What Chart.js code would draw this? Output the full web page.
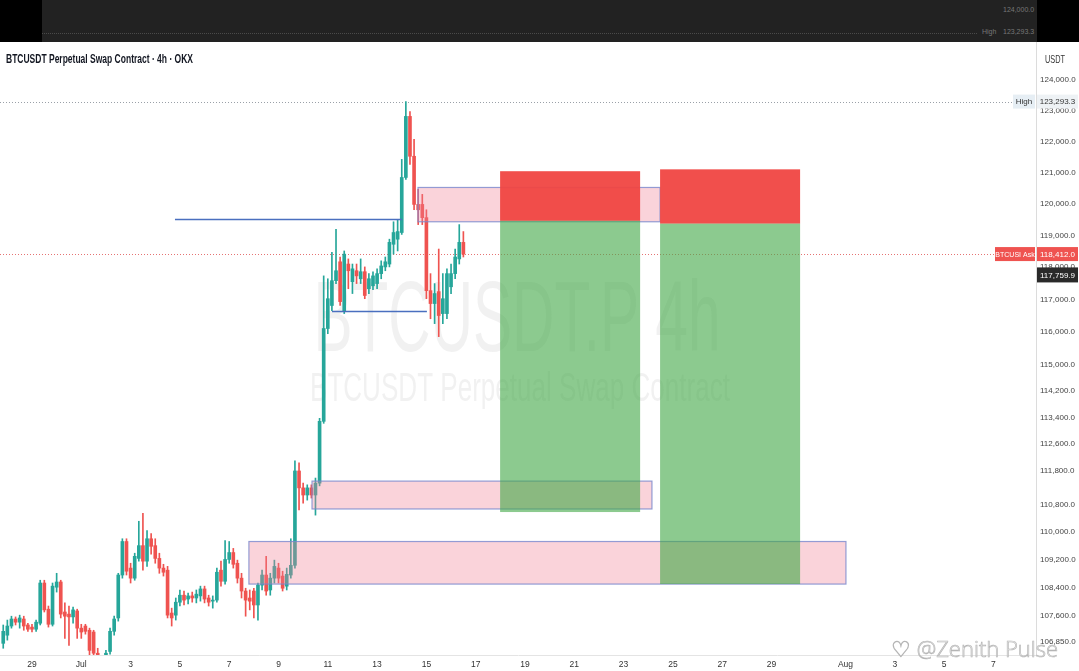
<!DOCTYPE html>
<html>
<head>
<meta charset="utf-8">
<script src="https://cdn.jsdelivr.net/npm/chart.js@4.4.1/dist/chart.umd.min.js"></script>
<style>
  html, body { margin: 0; padding: 0; background: #fff; width: 1079px; height: 671px; overflow: hidden; }
  body { font-family: 'Liberation Sans', sans-serif; }
  #topbar { position: absolute; left: 0; top: 0; width: 1079px; height: 42px; background: #000; }
  #topbar .inner { position: absolute; left: 42px; top: 0; width: 995px; height: 42px; background: #222; }
  #topbar .ghost { position: absolute; color: #777; font-size: 7px; }
  #topbar .dots { position: absolute; left: 42px; top: 33px; width: 935px; border-top: 1px dotted #4a4a4a; }
  #wrap { position: absolute; left: 0; top: 42px; width: 1079px; height: 629px; }
  #brand { position: absolute; left: 891px; top: 633px; font-family: 'Open Sans', 'Liberation Sans', sans-serif; font-size: 22px; font-weight: 300;
           color: rgba(255,255,255,0.5); -webkit-text-stroke: 0.7px #b5b5b5; white-space: nowrap; }
</style>
</head>
<body>
<div id="topbar">
  <div class="inner"></div>
  <div class="dots"></div>
  <div class="ghost" style="left:1003px;top:6px;">124,000.0</div>
  <div class="ghost" style="left:982px;top:28px;">High</div>
  <div class="ghost" style="left:1003px;top:28px;">123,293.3</div>
</div>
<div id="wrap"><canvas id="chart"></canvas></div>
<div id="brand">♡ @Zenith Pulse</div>
<script>
// time axis: days counted from Jun 29 00:00, one candle every 4h
const startDay = -7 / 6;   // Jun 27 20:00
const stepDay = 1 / 6;

const opens = [106810,107040,107300,107500,107410,107500,107330,107270,107210,107380,
  108530,107780,107350,108410,108560,107700,107640,107560,107730,107240,
  107300,107180,107130,106530,106330,106210,106580,107150,107530,108760,
  109730,108960,108670,109240,109610,109160,109810,109610,109240,108960,
  108900,107670,107610,107980,108180,108070,108160,108100,108160,108360,
  108100,108010,108040,108900,108580,109210,109410,109100,108670,108300,
  108100,108300,107900,108470,108760,108330,108670,108960,108730,108440,
  108760,109040,111800,111300,111090,111300,111090,111440,113280,116100,
  116810,117580,118170,116650,118100,117550,117890,117640,117860,117330,
  117420,117490,117800,118010,118100,118720,118880,119090,120840,122810,
  121520,119980,119980,119560,117270,116870,117240,116560,116560,117390,
  117800,118260,118780];
const highs = [107330,107470,107580,107560,107610,107580,107380,107350,107470,108610,
  108610,107870,108530,108810,108610,107960,107870,107840,107780,107350,
  107350,107240,107180,106670,106440,106610,107240,107580,108810,109810,
  109810,109100,109390,110320,110550,110050,109960,109810,109390,109070,
  109010,107810,108100,108330,108300,108240,108270,108330,108440,108440,
  108180,108160,108960,109160,109760,109730,109530,109190,108810,108380,
  108330,108380,108530,108900,109300,108810,109190,109100,108870,108960,
  109810,112100,112040,111440,111390,111390,111590,113370,117730,117640,
  118470,119190,118320,118510,118260,118100,118100,118260,118010,117800,
  117860,117950,118200,118320,118880,119430,119490,121420,123293,122970,
  122070,120460,120300,119810,117800,117490,118570,117800,117950,118100,
  118570,119340,119120];
const lows = [106670,106900,107240,107330,107240,107180,107150,107130,107150,107330,
  107700,107270,107300,108270,107530,106950,106750,107380,106950,106950,
  107070,106330,106240,106150,106040,106100,106500,107040,107440,108670,
  108760,108530,108610,109160,108900,109010,109360,109100,108810,108730,
  107530,107300,107470,107870,107900,107930,107980,107960,108010,107960,
  107870,107810,107980,108440,108500,109100,108960,108530,108100,107580,
  107760,107530,107470,108330,108180,108180,108530,108530,108300,108330,
  108670,108960,110650,110850,110940,111000,110500,111360,113220,115940,
  116650,117490,116810,116560,117330,117180,117490,117490,117020,117180,
  117300,117330,117640,117890,118010,118410,118510,119030,120780,121260,
  119810,119340,119340,117020,116400,116250,115850,116250,116400,117180,
  117640,118100,118320];
const closes = [107150,107300,107500,107410,107530,107300,107210,107210,107410,108530,
  107760,107350,108440,108560,107640,107580,107560,107760,107240,107130,
  107150,106610,106530,106330,106210,106530,107150,107500,108760,109730,
  108870,108670,109300,109610,109160,109810,109590,109240,108960,108840,
  107610,107530,107980,108180,108040,108160,108100,108210,108360,108070,
  107980,108040,108840,108580,109210,109410,109070,108670,108300,108040,
  108010,107900,108470,108760,108300,108670,109010,108670,108380,108780,
  109040,111800,111300,111090,111300,111090,111440,113280,116100,117020,
  117580,117890,116930,118410,117890,117950,117730,117860,117120,117640,
  117730,117800,118040,118170,118780,119090,119120,120840,122810,121520,
  119980,119810,119560,117270,116870,117180,116500,117020,117800,117800,
  118320,118780,118412];

// x axis ticks (days from Jun 29) and their labels
const tickDays = [0, 2, 4, 6, 8, 10, 12, 14, 16, 18, 20, 22, 24, 26, 28, 30, 33, 35, 37, 39];
const tickLabels = ['29', 'Jul', '3', '5', '7', '9', '11', '13', '15', '17', '19', '21', '23', '25', '27', '29', 'Aug', '3', '5', '7'];

// y axis ticks (price, USDT)
const priceTicks = [124000, 123000, 122000, 121000, 120000, 119000, 118000, 117000, 116000, 115000,
  114200, 113400, 112600, 111800, 110800, 110000, 109200, 108400, 107600, 106850];

// drawn zones (from day, to day, top price, bottom price)
const zoneFrom = [15.66, 11.36, 8.80];
const zoneTo = [25.48, 25.15, 33.02];
const zoneTop = [120520, 111500, 109730];
const zoneBottom = [119430, 110680, 108500];

// horizontal trend lines
const lineFrom = [5.80, 12.17];
const lineTo = [15.01, 16.02];
const linePrice = [119520, 116650];

// short positions: stop / entry / target
const posFrom = [18.99, 25.48];
const posTo = [24.67, 31.16];
const posStop = [121040, 121100];
const posEntry = [119460, 119370];
const posTarget = [110590, 108500];

const highPrice = 123293.3;
const askPrice = 118412.0;
const lastPrice = 117759.9;

const UP = '#26a69a';
const DOWN = '#ef5350';
const FONT = "'Liberation Sans', 'DejaVu Sans', sans-serif";

const times = opens.map((_, i) => startDay + i * stepDay);
const candleColors = opens.map((o, i) => closes[i] >= o ? UP : DOWN);

const fmt = v => v.toLocaleString('en-US', { minimumFractionDigits: 1, maximumFractionDigits: 1 });

function fitText(ctx, text, x, cy, width, font, color, align) {
  ctx.save();
  ctx.font = font;
  const w = ctx.measureText(text).width;
  ctx.translate(x, cy);
  ctx.scale(width / w, 1);
  ctx.textAlign = align || 'center';
  ctx.textBaseline = 'middle';
  ctx.fillStyle = color;
  ctx.fillText(text, 0, 0);
  ctx.restore();
}

function tag(ctx, x, y, w, h, bg, fg, text) {
  ctx.fillStyle = bg;
  ctx.fillRect(x, y - h / 2, w, h);
  ctx.fillStyle = fg;
  ctx.textAlign = 'center';
  ctx.textBaseline = 'middle';
  ctx.fillText(text, x + w / 2, y + 0.5);
}

const overlay = {
  id: 'overlay',
  beforeDatasetsDraw(chart) {
    const { ctx, chartArea: a, scales: { y } } = chart;
    ctx.save();
    // watermark
    const cx = (a.left + a.right) / 2, cy = (a.top + a.bottom) / 2;
    fitText(ctx, 'BTCUSDT.P 4h', cx - 1, cy - 25, 407, '100px ' + FONT, 'rgba(120,120,120,0.1)');
    fitText(ctx, 'BTCUSDT Perpetual Swap Contract', cx + 2, cy + 41, 420, '40px ' + FONT, 'rgba(120,120,120,0.1)');
    // dotted price lines
    ctx.setLineDash([1, 2]);
    ctx.lineWidth = 1;
    ctx.strokeStyle = '#9aa0a8';
    let py = Math.round(y.getPixelForValue(highPrice)) + 0.5;
    ctx.beginPath(); ctx.moveTo(a.left, py); ctx.lineTo(a.right - 24, py); ctx.stroke();
    ctx.strokeStyle = '#e57373';
    py = Math.round(y.getPixelForValue(askPrice)) + 0.5;
    ctx.beginPath(); ctx.moveTo(a.left, py); ctx.lineTo(a.right - 42, py); ctx.stroke();
    ctx.restore();
  },
  afterDatasetsDraw(chart) {
    const { ctx, chartArea: a, scales: { x, y } } = chart;
    ctx.save();
    ctx.beginPath();
    ctx.rect(a.left, a.top, a.right - a.left, a.bottom - a.top);
    ctx.clip();
    // zones
    zoneFrom.forEach((f, i) => {
      const x0 = x.getPixelForValue(f), x1 = x.getPixelForValue(zoneTo[i]);
      const y0 = y.getPixelForValue(zoneTop[i]), y1 = y.getPixelForValue(zoneBottom[i]);
      ctx.fillStyle = 'rgba(242,130,150,0.35)';
      ctx.fillRect(x0, y0, x1 - x0, y1 - y0);
      ctx.strokeStyle = 'rgba(120,135,205,0.8)';
      ctx.lineWidth = 1.2;
      ctx.strokeRect(x0, y0, x1 - x0, y1 - y0);
    });
    // positions
    posFrom.forEach((f, i) => {
      const x0 = x.getPixelForValue(f), x1 = x.getPixelForValue(posTo[i]);
      const ys = y.getPixelForValue(posStop[i]);
      const ye = y.getPixelForValue(posEntry[i]);
      const yt = y.getPixelForValue(posTarget[i]);
      ctx.fillStyle = 'rgba(240,70,66,0.95)';
      ctx.fillRect(x0, ys, x1 - x0, ye - ys);
      ctx.fillStyle = 'rgba(70,170,75,0.62)';
      ctx.fillRect(x0, ye, x1 - x0, yt - ye);
    });
    // trend lines
    ctx.strokeStyle = '#4a6fbf';
    ctx.lineWidth = 1.5;
    lineFrom.forEach((f, i) => {
      const py = Math.round(y.getPixelForValue(linePrice[i])) + 0.5;
      ctx.beginPath();
      ctx.moveTo(x.getPixelForValue(f), py);
      ctx.lineTo(x.getPixelForValue(lineTo[i]), py);
      ctx.stroke();
    });
    ctx.restore();
  },
  afterDraw(chart) {
    const { ctx, chartArea: a, scales: { y } } = chart;
    ctx.save();
    // legend title, condensed like the reference
    fitText(ctx, 'BTCUSDT Perpetual Swap Contract · 4h · OKX', a.left + 6, a.top + 18, 187,
      'bold 12px ' + FONT, '#131722', 'left');
    fitText(ctx, 'USDT', a.right + 9, a.top + 18, 20, '11px ' + FONT, '#333', 'left');
    // price tags
    ctx.font = '8px ' + FONT;
    const ax = a.right + 1;
    let py = y.getPixelForValue(highPrice);
    tag(ctx, a.right - 23, py, 22, 14, '#e6eef4', '#333', 'High');
    tag(ctx, ax, py, 41, 14, '#eef2f5', '#333', fmt(highPrice));
    py = y.getPixelForValue(lastPrice);
    tag(ctx, ax, py, 41, 15, '#2a2a2a', '#fff', fmt(lastPrice));
    py = y.getPixelForValue(askPrice);
    ctx.font = '7px ' + FONT;
    tag(ctx, a.right - 41, py, 40, 14, '#ef5350', '#fff', 'BTCUSI Ask');
    ctx.font = '8px ' + FONT;
    tag(ctx, ax, py, 41, 14, '#ef5350', '#fff', fmt(askPrice));
    ctx.restore();
  }
};

new Chart(document.getElementById('chart'), {
  type: 'bar',
  data: {
    datasets: [{
      label: 'body',
      data: times.map((t, i) => ({ x: t, y: [opens[i], closes[i]] })),
      backgroundColor: candleColors,
      barThickness: 3,
      minBarLength: 1,
      grouped: false
    }, {
      label: 'wick',
      data: times.map((t, i) => ({ x: t, y: [lows[i], highs[i]] })),
      backgroundColor: candleColors,
      barThickness: 1,
      minBarLength: 1,
      grouped: false
    }]
  },
  options: {
    responsive: true,
    maintainAspectRatio: false,
    animation: false,
    layout: { padding: 0 },
    plugins: { legend: { display: false }, tooltip: { enabled: false } },
    scales: {
      x: {
        type: 'linear',
        offset: false,
        min: -1.298,
        max: 40.73,
        grid: { display: false, drawTicks: false, offset: false },
        border: { display: true, color: '#e4e4e4' },
        ticks: {
          autoSkip: false, maxRotation: 0, padding: 5,
          font: { family: FONT, size: 8.5 }, color: '#333',
          callback: (v, i) => tickLabels[i]
        },
        afterBuildTicks: axis => { axis.ticks = tickDays.map(v => ({ value: v })); },
        afterFit: axis => { axis.height = 16; axis.paddingLeft = 0; axis.paddingRight = 0; }
      },
      y: {
        type: 'logarithmic',
        position: 'right',
        min: 106480,
        max: 125255,
        grid: { display: false, drawTicks: false },
        border: { display: true, color: '#dcdcdc' },
        ticks: {
          autoSkip: false, padding: 4,
          font: { family: FONT, size: 8 }, color: '#444',
          callback: v => fmt(v)
        },
        afterBuildTicks: axis => { axis.ticks = priceTicks.map(v => ({ value: v })); },
        afterFit: axis => { axis.width = 43; axis.paddingTop = 0; axis.paddingBottom = 0; }
      }
    }
  },
  plugins: [overlay]
});
</script>
</body>
</html>
